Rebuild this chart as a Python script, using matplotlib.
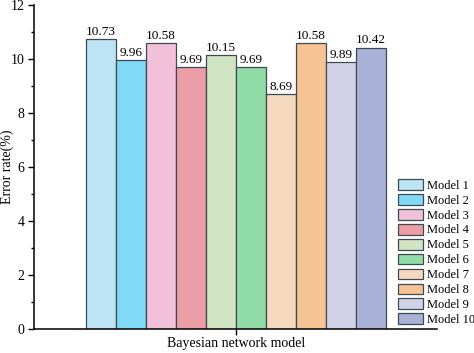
import matplotlib
matplotlib.use("Agg")
import matplotlib.pyplot as plt
import numpy as np

plt.rcParams['font.family'] = ['Liberation Serif', 'DejaVu Serif']

category = "Bayesian network model"
models = ["Model 1", "Model 2", "Model 3", "Model 4", "Model 5",
          "Model 6", "Model 7", "Model 8", "Model 9", "Model 10"]
values = [10.73, 9.96, 10.58, 9.69, 10.15, 9.69, 8.69, 10.58, 9.89, 10.42]
colors = ["#bde4f4", "#80d9f7", "#f0c1d9", "#ec9ea6", "#d0e4c4",
          "#91dba7", "#f4d9bf", "#f6c395", "#d1d1e7", "#a9b1d7"]

fig = plt.figure(figsize=(4.74, 3.53), dpi=100)
ax = fig.add_axes([34/474, 24/353, 403/474, 324/353])

w = 0.08
n = len(models)
for i, (m, v, c) in enumerate(zip(models, values, colors)):
    x = (i - (n - 1) / 2) * w
    ax.bar(x, v, width=w, color=c, edgecolor="#3d4a50", linewidth=0.9, label=m)
    ax.text(x, v + 0.05, f"{v:.2f}", ha="center", va="bottom", fontsize=9.5)

ax.set_xlim(-202/30*w, 201/30*w)
ax.set_ylim(0, 12)
ax.set_xticks([0])
ax.set_xticklabels([category], fontsize=10)
ax.set_yticks([0, 2, 4, 6, 8, 10, 12])
ax.set_yticks([1, 3, 5, 7, 9, 11], minor=True)
ax.tick_params(axis="y", which="major", length=4, width=1, labelsize=10, direction="out", pad=3)
ax.tick_params(axis="y", which="minor", length=2, width=1, direction="out")
ax.tick_params(axis="x", which="major", length=4, width=1, direction="out", pad=2)
ax.set_ylabel("Error rate(%)", fontsize=10)
ax.yaxis.set_label_coords(-20/403, 0.5)
for s in ["top", "right"]:
    ax.spines[s].set_visible(False)
for s in ["left", "bottom"]:
    ax.spines[s].set_linewidth(1.1)

fig.legend(loc="upper left", bbox_to_anchor=(398/474, 1 - 179/353), frameon=False,
           fontsize=9, handlelength=2.0, handleheight=0.95, handletextpad=0.35,
           labelspacing=0.18, borderpad=0, borderaxespad=0)

fig.savefig("out.png", dpi=100)
